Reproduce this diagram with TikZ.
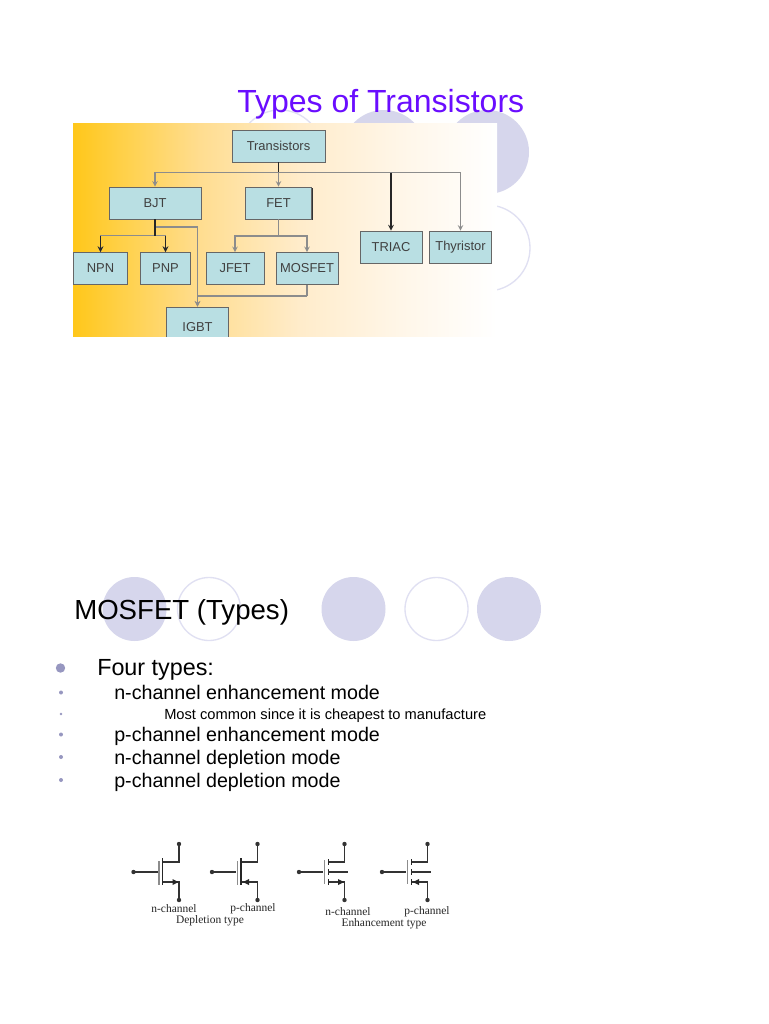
\documentclass[tikz,border=0pt]{standalone}
\usepackage{fontspec}
\setmainfont{Liberation Sans}
\newfontfamily\serifnote{Liberation Serif}
\usetikzlibrary{shadows}

\definecolor{slidepurple}{HTML}{6A0DFF}
\definecolor{discfill}{HTML}{D6D6EC}
\definecolor{discline}{HTML}{E0E0F2}
\definecolor{dotcolor}{HTML}{9797C0}
\definecolor{boxfill}{HTML}{B9DFE3}
\definecolor{bgA}{HTML}{FFC71A}
\definecolor{bgB}{HTML}{FFD250}
\definecolor{bgC}{HTML}{FFDD90}
\definecolor{bgD}{HTML}{FFECCB}
\definecolor{bgE}{HTML}{FFF6E8}
\pgfdeclarehorizontalshading{bgfade}{100bp}{color(0bp)=(bgA); color(25bp)=(bgA); color(31.7bp)=(bgB); color(40bp)=(bgC); color(51.8bp)=(bgD); color(63.6bp)=(bgE); color(75bp)=(white); color(100bp)=(white)}

\tikzset{
  tbox/.style={draw=black!60, fill=boxfill, line width=0.7pt, inner sep=0pt, minimum height=24pt,
    text=black!75, font=\fontsize{9.7}{11}\selectfont,
    general shadow={shadow xshift=0.7pt, shadow yshift=-0.7pt, fill=black!80}},
  disc/.style={fill=discfill},
  ring/.style={draw=discline, line width=1pt},
  bus/.style={draw=black!45, line width=0.8pt},
  stem/.style={draw=black!85, line width=0.9pt},
  label/.style={anchor=base west, inner sep=0pt},
  symlabel/.style={inner sep=0pt, font=\serifnote\fontsize{8.6}{10}\selectfont, text=black!85},
  wire/.style={line width=0.95pt, black!80},
  plate/.style={line width=1.1pt, black!45},
  channel/.style={line width=1.3pt, black!85}
}

% gate dot at (#1,872), arrow direction from #2
\newcommand{\fetcommon}[1]{
  \fill[black!80] (#1,872) circle (2.2);
  \draw[wire] (#1,872) -- ++(24,0);
  \draw[wire] (#1+29,862) -- ++(16.5,0) -- ++(0,-18);
  \fill[black!80] (#1+45.5,844) circle (2.2);
  \draw[wire] (#1+29,882) -- ++(16.5,0) -- ++(0,18);
  \fill[black!80] (#1+45.5,900) circle (2.2);
}
\newcommand{\fetdep}[1]{
  \fetcommon{#1}
  \draw[plate] (#1+25.5,861) -- ++(0,24);
  \draw[channel] (#1+29,858) -- ++(0,27);
}
\newcommand{\fetenh}[1]{
  \fetcommon{#1}
  \draw[plate] (#1+25.5,860) -- ++(0,24);
  \draw[channel] (#1+29.5,859) -- ++(0,6);
  \draw[channel] (#1+29.5,869) -- ++(0,6);
  \draw[channel] (#1+29.5,879) -- ++(0,6);
  \draw[wire] (#1+29,872) -- ++(20,0);
}
\newcommand{\arrowright}[1]{\fill[black!85] (#1+46-1,882) -- ++(-6,-3) -- ++(0,6) -- cycle;}
\newcommand{\arrowleft}[1]{\fill[black!85] (#1+31,882) -- ++(6,-3) -- ++(0,6) -- cycle;}

\begin{document}
\begin{tikzpicture}[x=0.75pt, y=-0.75pt, >=stealth]
\useasboundingbox (0,0) rectangle (768,1024);
\fill[white] (0,0) rectangle (768,1024);

% discs behind the first picture
\draw[ring] (280,152) circle (42);
\fill[disc] (384,152) circle (42);
\fill[disc] (487,152) circle (42);
\draw[ring] (487,248) circle (43);

\node[label, text=slidepurple, font=\fontsize{24}{28}\selectfont] (title) at (237,113) {Types of Transistors};

\shade[shading=bgfade] (73,123) rectangle (497,336);

\begin{scope}
\clip (73,123) rectangle (497,336);
\node[tbox, minimum width=69.75pt] (trans) at (278.5,146) {Transistors};
\node[tbox, minimum width=69pt] (bjt) at (155,203) {BJT};
\node[tbox, minimum width=50pt] (fet) at (278.5,203) {FET};
\node[tbox, minimum width=46.5pt] (triac) at (391,247) {TRIAC};
\node[tbox, minimum width=46pt] (thyr) at (460.5,247) {Thyristor};
\node[tbox, minimum width=40pt] (npn) at (100.5,268.5) {NPN};
\node[tbox, minimum width=37pt] (pnp) at (165.5,268.5) {PNP};
\node[tbox, minimum width=43.5pt] (jfet) at (235,268.5) {JFET};
\node[tbox, minimum width=46.5pt] (mosfet) at (307,268.5) {MOSFET};
\node[tbox, minimum width=46pt, minimum height=30pt] (igbt) at (197.5,327) {IGBT};

\coordinate (busT) at (278.5,172.5);
\coordinate (busB) at (155,235.5);
\coordinate (busI) at (155,227);
\coordinate (busF) at (278.5,236);
\coordinate (busM) at (307,296);

\draw[stem] (trans) -- (busT);
\draw[bus, ->] (busT) -| (bjt);
\draw[bus, ->] (busT) -- (fet);
\draw[bus, ->] (busT) -| (thyr);
\draw[stem, ->] (triac |- busT) -- (triac);
\draw[bus, ->] (busI) -| (igbt);
\draw[bus, ->] (busB) -| (npn);
\draw[bus, ->] (busB) -| (pnp);
\draw[stem] (bjt) -- (busB);
\draw[stem, ->] (npn |- busB) -- (npn);
\draw[stem, ->] (pnp |- busB) -- (pnp);
\draw[bus] (fet) -- (busF);
\draw[bus, ->] (busF) -| (jfet);
\draw[bus, ->] (busF) -| (mosfet);
\draw[bus] (mosfet) -- (busM);
\draw[bus, ->] (busM) -| (igbt);
\end{scope}

% second slide
\fill[disc] (134.5,609) circle (32);
\draw[ring] (209,609) circle (31.5);
\fill[disc] (353.5,609) circle (32);
\draw[ring] (436.5,609) circle (31.5);
\fill[disc] (509,609) circle (32);

\node[label, font=\fontsize{20.7}{25}\selectfont] (head) at (74,619) {MOSFET (Types)};

\fill[dotcolor] (60.5,668) circle (4.7);
\foreach \yy/\rr in {692.5/2, 714/1.4, 734.5/2, 757/2, 780/2}
  \fill[dotcolor] (61,\yy) circle (\rr);

\node[label, font=\fontsize{17.5}{20}\selectfont] (four) at (97,675) {Four types:};
\node[label, font=\fontsize{14.75}{17}\selectfont] (nenh) at (114,699) {n-channel enhancement mode};
\node[label, font=\fontsize{11}{13}\selectfont] (most) at (164,719) {Most common since it is cheapest to manufacture};
\node[label, font=\fontsize{14.75}{17}\selectfont] (penh) at (114,741) {p-channel enhancement mode};
\node[label, font=\fontsize{14.75}{17}\selectfont] (ndep) at (114,764) {n-channel depletion mode};
\node[label, font=\fontsize{14.75}{17}\selectfont] (pdep) at (114,787) {p-channel depletion mode};

% transistor symbols
\fetdep{133.5} \arrowright{133.5}
\fetdep{212} \arrowleft{212}
\fetenh{299} \arrowright{299}
\fetenh{382} \arrowleft{382}

\node[symlabel] (ln1) at (174,909) {n-channel};
\node[symlabel] (lp1) at (253,909) {p-channel};
\node[symlabel] (ldep) at (210,921) {Depletion type};
\node[symlabel] (ln2) at (348,912) {n-channel};
\node[symlabel] (lp2) at (427,912) {p-channel};
\node[symlabel] (lenh) at (384,923.5) {Enhancement type};
\end{tikzpicture}
\end{document}
